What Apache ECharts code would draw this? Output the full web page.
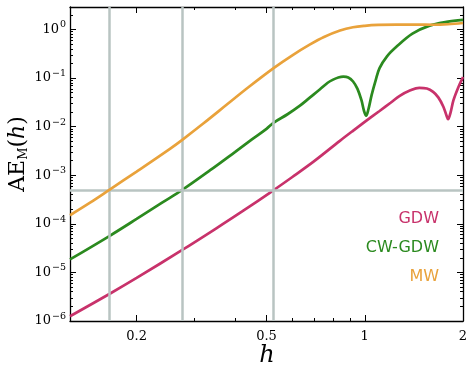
<!DOCTYPE html>
<html>
<head>
<meta charset="utf-8">
<script src="https://cdn.jsdelivr.net/npm/echarts@6/dist/echarts.min.js"></script>
<style>html,body{margin:0;padding:0;background:#fff}#c{width:474px;height:374px}</style>
</head>
<body>
<div id="c"></div>
<script>
// ---- data ----
const seriesNames = ['GDW', 'CW-GDW', 'MW'];
const seriesColors = ['#c8326b', '#2b8a1f', '#e9a23b'];

const gdwH = [0.125, 0.165, 0.2, 0.276, 0.35, 0.42, 0.525, 0.6, 0.7, 0.839, 0.92, 1.0, 1.11, 1.2, 1.28, 1.38, 1.47, 1.55, 1.62, 1.68, 1.74, 1.78, 1.8, 1.83, 1.87, 1.93, 2.0];
const gdwV = [1.25e-6, 3.6e-6, 7.7e-6, 2.9e-5, 8.0e-5, 1.78e-4, 4.9e-4, 9.2e-4, 1.95e-3, 5.1e-3, 8.2e-3, 0.0125, 0.021, 0.031, 0.043, 0.056, 0.063, 0.061, 0.052, 0.04, 0.026, 0.017, 0.0142, 0.019, 0.035, 0.062, 0.105];

const cwH = [0.125, 0.165, 0.2, 0.24, 0.276, 0.336, 0.4, 0.45, 0.5, 0.525, 0.58, 0.633, 0.68, 0.728, 0.77, 0.8, 0.83, 0.86, 0.89, 0.921, 0.95, 0.977, 0.995, 1.01, 1.025, 1.05, 1.08, 1.11, 1.17, 1.25, 1.4, 1.58, 1.78, 2.0];
const cwV = [1.85e-5, 5.6e-5, 1.26e-4, 2.76e-4, 5.0e-4, 1.27e-3, 3.0e-3, 5.4e-3, 9.0e-3, 0.012, 0.018, 0.027, 0.04, 0.058, 0.08, 0.093, 0.103, 0.107, 0.103, 0.085, 0.06, 0.035, 0.021, 0.0168, 0.022, 0.045, 0.09, 0.16, 0.28, 0.44, 0.82, 1.2, 1.43, 1.58];

const mwH = [0.125, 0.144, 0.165, 0.2, 0.253, 0.276, 0.32, 0.378, 0.44, 0.527, 0.6, 0.68, 0.75, 0.84, 0.92, 1.0, 1.1, 1.25, 1.45, 1.62, 1.8, 2.0];
const mwV = [1.5e-4, 2.72e-4, 5.0e-4, 1.19e-3, 3.5e-3, 5.36e-3, 0.0116, 0.0285, 0.0646, 0.162, 0.294, 0.492, 0.70, 0.95, 1.11, 1.19, 1.24, 1.26, 1.26, 1.25, 1.28, 1.36];

const threshold = 5e-4;
const crossings = [0.165, 0.276, 0.525];

const xMajorTicks = [0.2, 0.5, 1, 2];
const xMinorTicks = [0.3, 0.4, 0.6, 0.7, 0.8, 0.9];
const yMajorTicks = [1e-6, 1e-5, 1e-4, 1e-3, 1e-2, 1e-1, 1];
const yMinorTicks = [];
for (let e = -6; e <= 0; e++) for (let m = 2; m <= 9; m++) { const v = m * Math.pow(10, e); if (v < 2.9) yMinorTicks.push(+v.toPrecision(3)); }

const xRange = [0.125, 2];
const yRange = [1e-6, 2.9];

// ---- chart ----
const chart = echarts.init(document.getElementById('c'), null, {renderer: 'canvas'});
const serif = 'DejaVu Serif';
const pair = (hs, vs) => hs.map((h, i) => [h, vs[i]]);
const lineBlack = {show: true, lineStyle: {color: '#000', width: 1.3}};

function xAx(pos, ticks, len, showLine, labels) {
  return {
    type: 'log', logBase: 10, position: pos, min: xRange[0], max: xRange[1],
    axisLine: showLine ? lineBlack : {show: false},
    axisTick: {show: true, inside: true, length: len, customValues: ticks, lineStyle: {color: '#000', width: 1}},
    axisLabel: labels ? {show: true, customValues: ticks, margin: 9, fontFamily: serif, fontSize: 13, color: '#000',
      formatter: v => String(+(+v).toPrecision(3))} : {show: false},
    splitLine: {show: false}, minorTick: {show: false}
  };
}
function yAx(pos, ticks, len, showLine, labels) {
  return {
    type: 'log', logBase: 10, position: pos, min: yRange[0], max: yRange[1],
    axisLine: showLine ? lineBlack : {show: false},
    axisTick: {show: true, inside: true, length: len, customValues: ticks, lineStyle: {color: '#000', width: 1}},
    axisLabel: labels ? {show: true, customValues: ticks, margin: 4, color: '#000',
      formatter: v => { const e = Math.round(Math.log10(v)); return '{b|10}{s|' + (e < 0 ? '\u2212' + (-e) : e) + '}'; },
      rich: {b: {fontFamily: serif, fontSize: 13, color: '#000'}, s: {fontFamily: serif, fontSize: 9.5, color: '#000', padding: [0, 0, 9, 1]}}
    } : {show: false},
    splitLine: {show: false}, minorTick: {show: false}
  };
}

const curves = [pair(gdwH, gdwV), pair(cwH, cwV), pair(mwH, mwV)];
const refLines = [[{coord: [xRange[0], threshold]}, {coord: [xRange[1], threshold]}]]
  .concat(crossings.map(c => [{coord: [c, yRange[0]]}, {coord: [c, yRange[1]]}]));
const series = [{
  name: 'ref', type: 'line', data: [], z: 1, silent: true,
  markLine: {silent: true, symbol: ['none', 'none'], label: {show: false}, animation: false,
    lineStyle: {color: '#b9c4c2', width: 2.5, type: 'solid'},
    data: refLines}
}].concat(curves.map((d, i) => ({
  name: seriesNames[i], type: 'line', data: d, z: 3 + i, xAxisIndex: 0, yAxisIndex: 0,
  showSymbol: false, smooth: 0.35, lineStyle: {color: seriesColors[i], width: 2.7}, itemStyle: {color: seriesColors[i]}
})));

const legendTexts = seriesNames.map((n, i) => ({
  type: 'text', right: 35, top: 211 + i * 29,
  style: {text: n, fill: seriesColors[i], font: '16px "DejaVu Sans"', textAlign: 'right'}
}));

chart.setOption({
  animation: false,
  grid: {left: 70, right: 11, top: 7, bottom: 53, containLabel: false},
  xAxis: [xAx('bottom', xMajorTicks, 6, true, true), xAx('bottom', xMinorTicks, 3, false, false),
          xAx('top', xMajorTicks, 6, true, false), xAx('top', xMinorTicks, 3, false, false)],
  yAxis: [yAx('left', yMajorTicks, 6, true, true), yAx('left', yMinorTicks, 3, false, false),
          yAx('right', yMajorTicks, 6, true, false), yAx('right', yMinorTicks, 3, false, false)],
  series: series,
  graphic: legendTexts.concat([
    {type: 'text', x: 267, y: 356, style: {text: 'h', font: 'italic 24px "DejaVu Serif"', fill: '#000', textAlign: 'center', textVerticalAlign: 'middle'}},
    {type: 'text', x: 18, y: 154, rotation: Math.PI / 2,
     style: {text: '{n|AE}{sub|M}{n|(}{i|h}{n|)}', textAlign: 'center', textVerticalAlign: 'middle',
       rich: {n: {fontFamily: serif, fontSize: 22, color: '#000'},
              sub: {fontFamily: serif, fontSize: 12, color: '#000', padding: [11, 0, 0, 0]},
              i: {fontFamily: serif, fontStyle: 'italic', fontSize: 22, color: '#000'}}}}
  ])
});
</script>
</body>
</html>
